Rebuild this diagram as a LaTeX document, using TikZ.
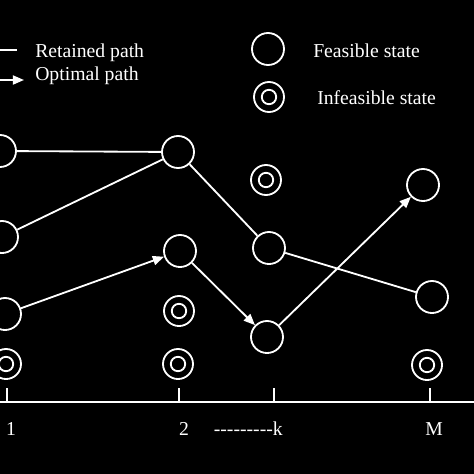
\documentclass[tikz,border=0pt]{standalone}
\usepackage{fontspec}
\setmainfont{Liberation Serif}
\usetikzlibrary{arrows.meta,positioning}

\tikzset{
  feasible/.style={draw=white,circle,line width=1.3pt,minimum size=0.8cm,inner sep=0pt},
  infeasible/.style={draw=white,circle,line width=1.3pt,minimum size=0.75cm,inner sep=0pt,
    path picture={\draw[white,line width=1.3pt] (path picture bounding box.center) circle (0.18cm);}},
  retained/.style={white,line width=1.3pt},
  optimal/.style={white,line width=1.3pt,-{Triangle[length=8pt,width=6.5pt]}},
  legendtext/.style={text=white,font=\fontsize{14}{16}\selectfont,inner sep=0pt,anchor=base west},
  stagetext/.style={text=white,font=\fontsize{14}{16}\selectfont,inner sep=0pt,anchor=base}
}

\begin{document}
\begin{tikzpicture}[x=0.025cm,y=-0.025cm]
  \fill[black] (0,0) rectangle (474,474);
  \useasboundingbox (0,0) rectangle (474,474);

  % legend
  \coordinate (retA) at (0,50);
  \coordinate (retB) at (17,50);
  \coordinate (optA) at (0,80);
  \coordinate (optB) at (24,80);
  \draw[retained] (retA) -- (retB);
  \draw[optimal] (optA) -- (optB);
  \node[legendtext] (retText) at (35,57) {Retained path};
  \node[legendtext] (optText) at (35,80) {Optimal path};
  \node[feasible] (feasKey) at (268,49) {};
  \node[infeasible] (infKey) at (269,97) {};
  \node[legendtext] (feasText) at (313,57) {Feasible state};
  \node[legendtext] (infText) at (317,104) {Infeasible state};

  % stage 1
  \node[feasible] (s1a) at (0,151) {};
  \node[feasible] (s1b) at (2,237) {};
  \node[feasible] (s1c) at (5,314) {};
  \node[infeasible] (s1d) at (6,364) {};
  % stage 2
  \node[feasible] (s2a) at (178,152) {};
  \node[feasible] (s2b) at (180,251) {};
  \node[infeasible] (s2c) at (179,311) {};
  \node[infeasible] (s2d) at (178,364) {};
  % stage k
  \node[infeasible] (ska) at (266,180) {};
  \node[feasible] (skb) at (269,248) {};
  \node[feasible] (skc) at (267,337) {};
  % stage M
  \node[feasible] (sMa) at (423,185) {};
  \node[feasible] (sMb) at (432,297) {};
  \node[infeasible] (sMc) at (427,365) {};

  % paths
  \draw[retained] (s1a) -- (s2a);
  \draw[retained] (s1b) -- (s2a);
  \draw[retained] (s2a) -- (skb);
  \draw[retained] (skb) -- (sMb);
  \draw[optimal] (s1c) -- (s2b);
  \draw[optimal] (s2b) -- (skc);
  \draw[optimal] (skc) -- (sMa);

  % stage axis
  \coordinate (axisL) at (0,402);
  \coordinate (axisR) at (474,402);
  \draw[retained] (axisL) -- (axisR);
  \foreach \n/\x in {1/7,2/179,k/274,M/430} {
    \coordinate (tick\n) at (\x,402);
    \draw[retained] (tick\n) -- ++(0,-14);
  }
  \node[stagetext] (lab1) at (11,435) {1};
  \node[stagetext] (lab2) at (184,435) {2};
  \node[stagetext,anchor=base east] (labk) at (283,435) {-{}-{}-{}-{}-{}-{}-{}-{}-k};
  \node[stagetext] (labM) at (434,435) {M};
\end{tikzpicture}
\end{document}
